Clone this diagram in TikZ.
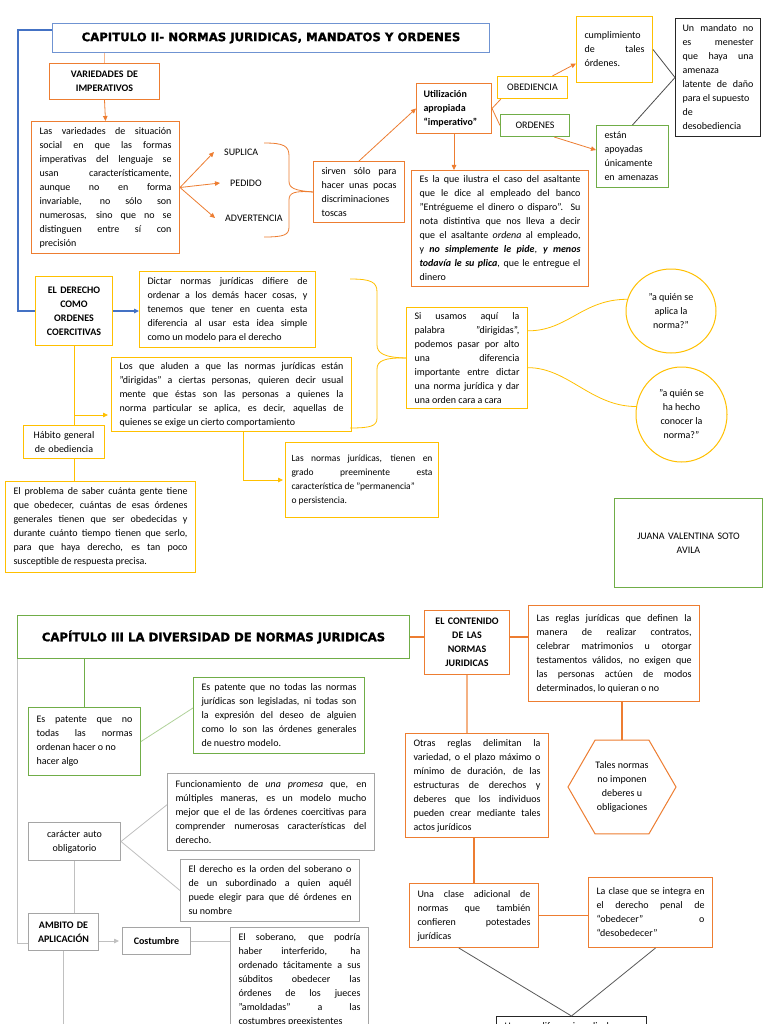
\documentclass[tikz,border=0pt]{standalone}
\usepackage{fontspec}
\setmainfont{Carlito}
\newfontfamily\headfont{DejaVu Sans}[BoldFeatures={FakeBold=1.3}]
\usepackage{xcolor}
\usepackage{tikz}
\usetikzlibrary{arrows.meta, positioning, calc, shapes.geometric}

\definecolor{ocOrange}{HTML}{ED7D31}
\definecolor{ocGold}{HTML}{FFC000}
\definecolor{ocGreen}{HTML}{70AD47}
\definecolor{ocBlue}{HTML}{4472C4}
\definecolor{ocBlueL}{HTML}{6F93D2}
\definecolor{ocGray}{HTML}{A5A5A5}
\newcommand{\boxfont}{\fontsize{10}{14}\selectfont}

\begin{document}
\begin{tikzpicture}[x=1pt, y=-1pt,
  box/.style={draw, line width=1pt, anchor=north west, inner xsep=8pt, inner ysep=2pt, font=\boxfont, align=justify},
  obox/.style={box, draw=ocOrange},
  ybox/.style={box, draw=ocGold},
  gbox/.style={box, draw=ocGreen},
  kbox/.style={box, draw=ocGray},
  tbox/.style={draw, line width=1pt, anchor=north west, font=\headfont\bfseries\fontsize{11.7}{14}\selectfont},
  lbl/.style={font=\boxfont\bfseries, align=center},
  circ/.style={ellipse, draw=ocGold, line width=1pt, inner sep=0pt, font=\boxfont, align=center},
  word/.style={anchor=west, inner sep=0pt, font=\fontsize{10}{12}\selectfont},
  arr/.style={-{Triangle[length=5pt, width=4.5pt]}, line width=0.8pt},
  conn/.style={line width=0.8pt},
]
  \useasboundingbox (0,0) rectangle (768,1024);
  \clip (0,0) rectangle (768,1024);
  \fill[white] (0,0) rectangle (768,1024);

  % Capitulo II
  \node[tbox, draw=ocBlueL, minimum width=437pt, minimum height=29pt] (t2) at (52,23) {CAPITULO II- NORMAS JURIDICAS, MANDATOS Y ORDENES};
  \node[obox, lbl, text width=94pt, minimum height=36pt] (var) at (49,63) {VARIEDADES DE\\IMPERATIVOS};
  \node[obox, text width=132pt, minimum height=132pt] (varied) at (31,121) {Las variedades de situación\linebreak social en que las formas\linebreak imperativas del lenguaje se\linebreak usan característicamente,\linebreak aunque no en forma\linebreak invariable, no sólo son\linebreak numerosas, sino que no se\linebreak distinguen entre sí con\linebreak precisión};

  \node[word] (sup) at (224,152) {SUPLICA};
  \node[word] (ped) at (230,183) {PEDIDO};
  \node[word] (adv) at (225,218) {ADVERTENCIA};

  \node[obox, text width=75pt, minimum height=61pt] (sirv) at (313,161) {sirven sólo para\linebreak hacer unas pocas\linebreak discriminaciones\\toscas};
  \node[obox, lbl, align=left, inner xsep=7pt, text width=61pt, minimum height=50pt] (uti) at (416,83) {Utilización\\apropiada\\“imperativo”};
  \node[obox, text width=161pt, minimum height=116pt] (esla) at (411,170) {Es la que ilustra el caso del asaltante\linebreak que le dice al empleado del banco\linebreak "Entrégueme el dinero o disparo". Su\linebreak nota distintiva que nos lleva a decir\linebreak que el asaltante \textit{ordena} al empleado,\linebreak y \textbf{\textit{no simplemente le pide}}, \textbf{\textit{y menos}}\linebreak \textbf{\textit{todavía le su plica}}, que le entregue el\linebreak dinero};

  \node[ybox, align=center, inner ysep=0pt, text width=54pt, minimum height=22pt] (obe) at (497,76) {OBEDIENCIA};
  \node[gbox, align=center, inner ysep=0pt, text width=53pt, minimum height=22pt] (ord) at (500,114) {ORDENES};
  \node[ybox, text width=60pt, minimum height=66pt] (cump) at (576,16) {cumplimiento\\de tales\linebreak órdenes.};
  \node[gbox, align=left, text width=56pt, minimum height=62pt] (est) at (596,125) {están\\apoyadas\\únicamente\\en amenazas};
  \node[box, draw=black!85, inner xsep=7pt, text width=71pt, minimum height=118pt] (mand) at (675,18) {Un mandato no\linebreak es menester\linebreak que haya una\linebreak amenaza\\latente de daño\linebreak para el supuesto\\de\\desobediencia};

  \node[ybox, lbl, text width=61pt, minimum height=69pt] (der) at (35,276) {EL DERECHO\\COMO\\ORDENES\\COERCITIVAS};
  \node[ybox, text width=160pt, minimum height=76pt] (dict) at (139,271) {Dictar normas jurídicas difiere de\linebreak ordenar a los demás hacer cosas, y\linebreak tenemos que tener en cuenta esta\linebreak diferencia al usar esta idea simple\linebreak como un modelo para el derecho};
  \node[ybox, text width=224pt, minimum height=74pt] (los) at (111,357) {Los que aluden a que las normas jurídicas están\linebreak "dirigidas" a ciertas personas, quieren decir usual\linebreak mente que éstas son las personas a quienes la\linebreak norma particular se aplica, es decir, aquellas de\linebreak quienes se exige un cierto comportamiento};
  \node[ybox, align=center, text width=65pt, minimum height=33pt] (hab) at (23,425) {Hábito general\\de obediencia};
  \node[ybox, text width=174pt, minimum height=91pt] (prob) at (5,481) {El problema de saber cuánta gente tiene\linebreak que obedecer, cuántas de esas órdenes\linebreak generales tienen que ser obedecidas y\linebreak durante cuánto tiempo tienen que serlo,\linebreak para que haya derecho, es tan poco\linebreak susceptible de respuesta precisa.};
  \node[ybox, inner xsep=6pt, text width=141pt, minimum height=75pt, font=\fontsize{9.5}{14}\selectfont] (lasn) at (285,442) {Las normas jurídicas, tienen en\linebreak grado preeminente esta\linebreak \mbox{característica de "permanencia"}\\o persistencia.};
  \node[ybox, text width=105pt, minimum height=101pt] (siu) at (406,307) {Si usamos aquí la\linebreak palabra "dirigidas",\linebreak podemos pasar por alto\linebreak una diferencia\linebreak importante entre dictar\linebreak una norma jurídica y dar\linebreak una orden cara a cara};
  \node[circ, minimum width=90pt, minimum height=84pt] (c1) at (671,311) {"a quién se\\aplica la\\norma?"};
  \node[circ, minimum width=91pt, minimum height=95pt] (c2) at (681.5,414.5) {"a quién se\\ha hecho\\conocer la\\norma?"};
  \node[gbox, align=center, text width=132pt, minimum height=89pt] (juana) at (614,498) {JUANA VALENTINA SOTO\\AVILA};

  % Capitulo III
  \node[tbox, draw=ocGreen, minimum width=392pt, minimum height=43pt] (t3) at (17,615) {CAPÍTULO III LA DIVERSIDAD DE NORMAS JURIDICAS};
  \node[gbox, text width=96pt, minimum height=68pt] (pat1) at (28,707) {Es patente que no\linebreak todas las normas\linebreak ordenan hacer o no\\hacer algo};
  \node[gbox, text width=155pt, minimum height=76pt] (pat2) at (193,677) {Es patente que no todas las normas\linebreak jurídicas son legisladas, ni todas son\linebreak la expresión del deseo de alguien\linebreak como lo son las órdenes generales\linebreak de nuestro modelo.};
  \node[kbox, text width=191pt, minimum height=77pt] (fun) at (167,773) {Funcionamiento de \textit{una promesa} que, en\linebreak múltiples maneras, es un modelo mucho\linebreak mejor que el de las órdenes coercitivas para\linebreak comprender numerosas características del\linebreak derecho.};
  \node[kbox, align=center, text width=76pt, minimum height=38pt] (car) at (28,822) {carácter auto\\obligatorio};
  \node[kbox, text width=163pt, minimum height=62pt] (eld) at (180,859) {El derecho es la orden del soberano o\linebreak de un subordinado a quien aquél\linebreak puede elegir para que dé órdenes en\linebreak su nombre};
  \node[kbox, lbl, text width=54pt, minimum height=37pt] (amb) at (28,913) {AMBITO DE\\APLICACIÓN};
  \node[kbox, lbl, text width=52pt, minimum height=27pt] (cos) at (122,927) {Costumbre};
  \node[kbox, inner ysep=6pt, text width=122pt] (sob) at (230,927) {El soberano, que podría\linebreak haber interferido, ha\linebreak ordenado tácitamente a sus\linebreak súbditos obedecer las\linebreak órdenes de los jueces\linebreak "amoldadas" a las\linebreak costumbres preexistentes};

  \node[obox, lbl, text width=69pt, minimum height=64pt] (con) at (424,610) {EL CONTENIDO\\DE LAS\\NORMAS\\JURIDICAS};
  \node[obox, text width=155pt, minimum height=96pt] (reg) at (528,605) {Las reglas jurídicas que definen la\linebreak manera de realizar contratos,\linebreak celebrar matrimonios u otorgar\linebreak testamentos válidos, no exigen que\linebreak las personas actúen de modos\linebreak determinados, lo quieran o no};
  \node[regular polygon, regular polygon sides=6, minimum size=108pt, inner sep=0pt, draw=ocOrange, line width=1pt, font=\boxfont, align=center] (hex) at (622,787) {Tales normas\\no imponen\\deberes u\\obligaciones};
  \node[obox, text width=127pt, minimum height=104pt] (otr) at (405,733) {Otras reglas delimitan la\linebreak variedad, o el plazo máximo o\linebreak mínimo de duración, de las\linebreak estructuras de derechos y\linebreak deberes que los individuos\linebreak pueden crear mediante tales\linebreak actos jurídicos};
  \node[obox, text width=113pt, minimum height=64pt] (una) at (409,883) {Una clase adicional de\linebreak normas que también\linebreak confieren potestades\linebreak jurídicas};
  \node[obox, text width=108pt, minimum height=70pt] (lac) at (588,877) {La clase que se integra en\linebreak el derecho penal de\linebreak “obedecer” o\linebreak “desobedecer”};
  \node[box, draw=black!85, inner ysep=6pt, text width=134pt] (hay) at (496,1016) {Hay una diferencia radical};

  % Connectors, Capitulo II
  \draw[conn, ocBlue, line width=1.2pt] ($(t2.north west)+(0,7)$) -- ++(-34,0) |- (der.west);
  \draw[arr, ocBlue, line width=1.2pt] (der.east) -- (der.east -| dict.west);
  \draw[conn, ocOrange!55] (var.north |- t2.south) -- (var.north);
  \draw[arr, ocOrange] (var.south) -- (varied.north);
  \foreach \w in {sup, ped, adv}
    \draw[arr, ocOrange] (varied.east) -- ([xshift=-10pt]\w.west);
  \draw[conn, ocOrange] (264,143) .. controls (284,143) and (289,146) .. (289,156) -- (289,181) .. controls (289,188) and (294,190.5) .. (sirv.west);
  \draw[conn, ocOrange] (sirv.west) .. controls (294,190.5) and (289,193) .. (289,200) -- (289,227) .. controls (289,235) and (284,237) .. (264,237);
  \draw[arr, ocOrange] (sirv.north) -- (uti.west);
  \draw[arr, ocOrange] (uti.south) -- (uti.south |- esla.north);
  \draw[conn, ocOrange] (uti.east) -- (obe.200);
  \draw[conn, ocOrange] (uti.east) -- (ord.west);
  \draw[arr, ocOrange] (obe.30) -- (cump.200);
  \draw[arr, ocOrange] (ord.329) -- (est.170);
  \draw[conn, black!70] (cump.east) -- (mand.west);
  \draw[conn, black!70] (est.north) -- (mand.west);

  \draw[conn, ocGold] (der.south) -- (der.south |- hab.north);
  \draw[arr, ocGold, shorten >=3pt] ($(der.south)+(0,69)$) coordinate (brk) -- (brk -| los.west);
  \draw[conn, ocGold] (der.south |- hab.south) -- (der.south |- prob.north);
  \draw[arr, ocGold, shorten >=2pt] ($(los.south)+(12,0)$) |- (lasn.west);
  \draw[conn, ocGold] (350,279) .. controls (371,279) and (377,282) .. (377,292) -- (377,345) .. controls (377,353) and (384,357.5) .. (siu.west);
  \draw[conn, ocGold] (siu.west) .. controls (384,357.5) and (377,361) .. (377,369) -- (377,418) .. controls (377,426) and (371,428) .. (350,428);
  \draw[conn, ocGold] (siu.24) .. controls +(40,0) and +(-45,0) .. (c1.165);
  \draw[conn, ocGold] (siu.351) .. controls +(40,0) and +(-45,0) .. (c2.170);

  % Connectors, Capitulo III
  \draw[conn, ocGray!70] (t3.south west) |- ($(amb.south west)+(0,-8)$);
  \draw[conn, ocGreen, line width=1.2pt] (pat1.north |- t3.south) -- (pat1.north);
  \draw[conn, ocGreen!55] (pat1.east) -- (pat2.175);
  \draw[conn, ocGray!70] (car.east) -- (fun.176);
  \draw[conn, ocGray!70] (car.east) -- (eld.west);
  \draw[conn, ocGray!70] (car.south) -- (car.south |- amb.north);
  \draw[arr, ocGray!70, shorten >=3pt] (amb.east |- cos.west) -- (cos.west);
  \draw[conn, ocGray!70] (cos.east) -- (cos.east -| sob.west);
  \draw[conn, ocGray!70] (amb.south) -- (amb.south |- sob.south);

  \draw[conn, ocOrange, line width=1.2pt] (t3.east) -- (t3.east -| con.west);
  \draw[conn, ocOrange, line width=1.2pt] (t3.east -| con.east) -- (t3.east -| reg.west);
  \draw[conn, ocOrange!60, line width=1.2pt] (con.south) -- (con.south |- otr.north);
  \draw[conn, ocOrange, line width=1.2pt] (hex.north |- reg.south) -- (hex.north);
  \draw[conn, ocOrange, line width=1.2pt] (una.north |- otr.south) -- (una.north);
  \draw[conn, ocOrange, line width=1.2pt] (una.east) -- (una.east -| lac.west);
  \draw[conn, black!65] (una.245) -- (hay.north);
  \draw[conn, black!65] (lac.278) -- (hay.north);
\end{tikzpicture}
\end{document}
